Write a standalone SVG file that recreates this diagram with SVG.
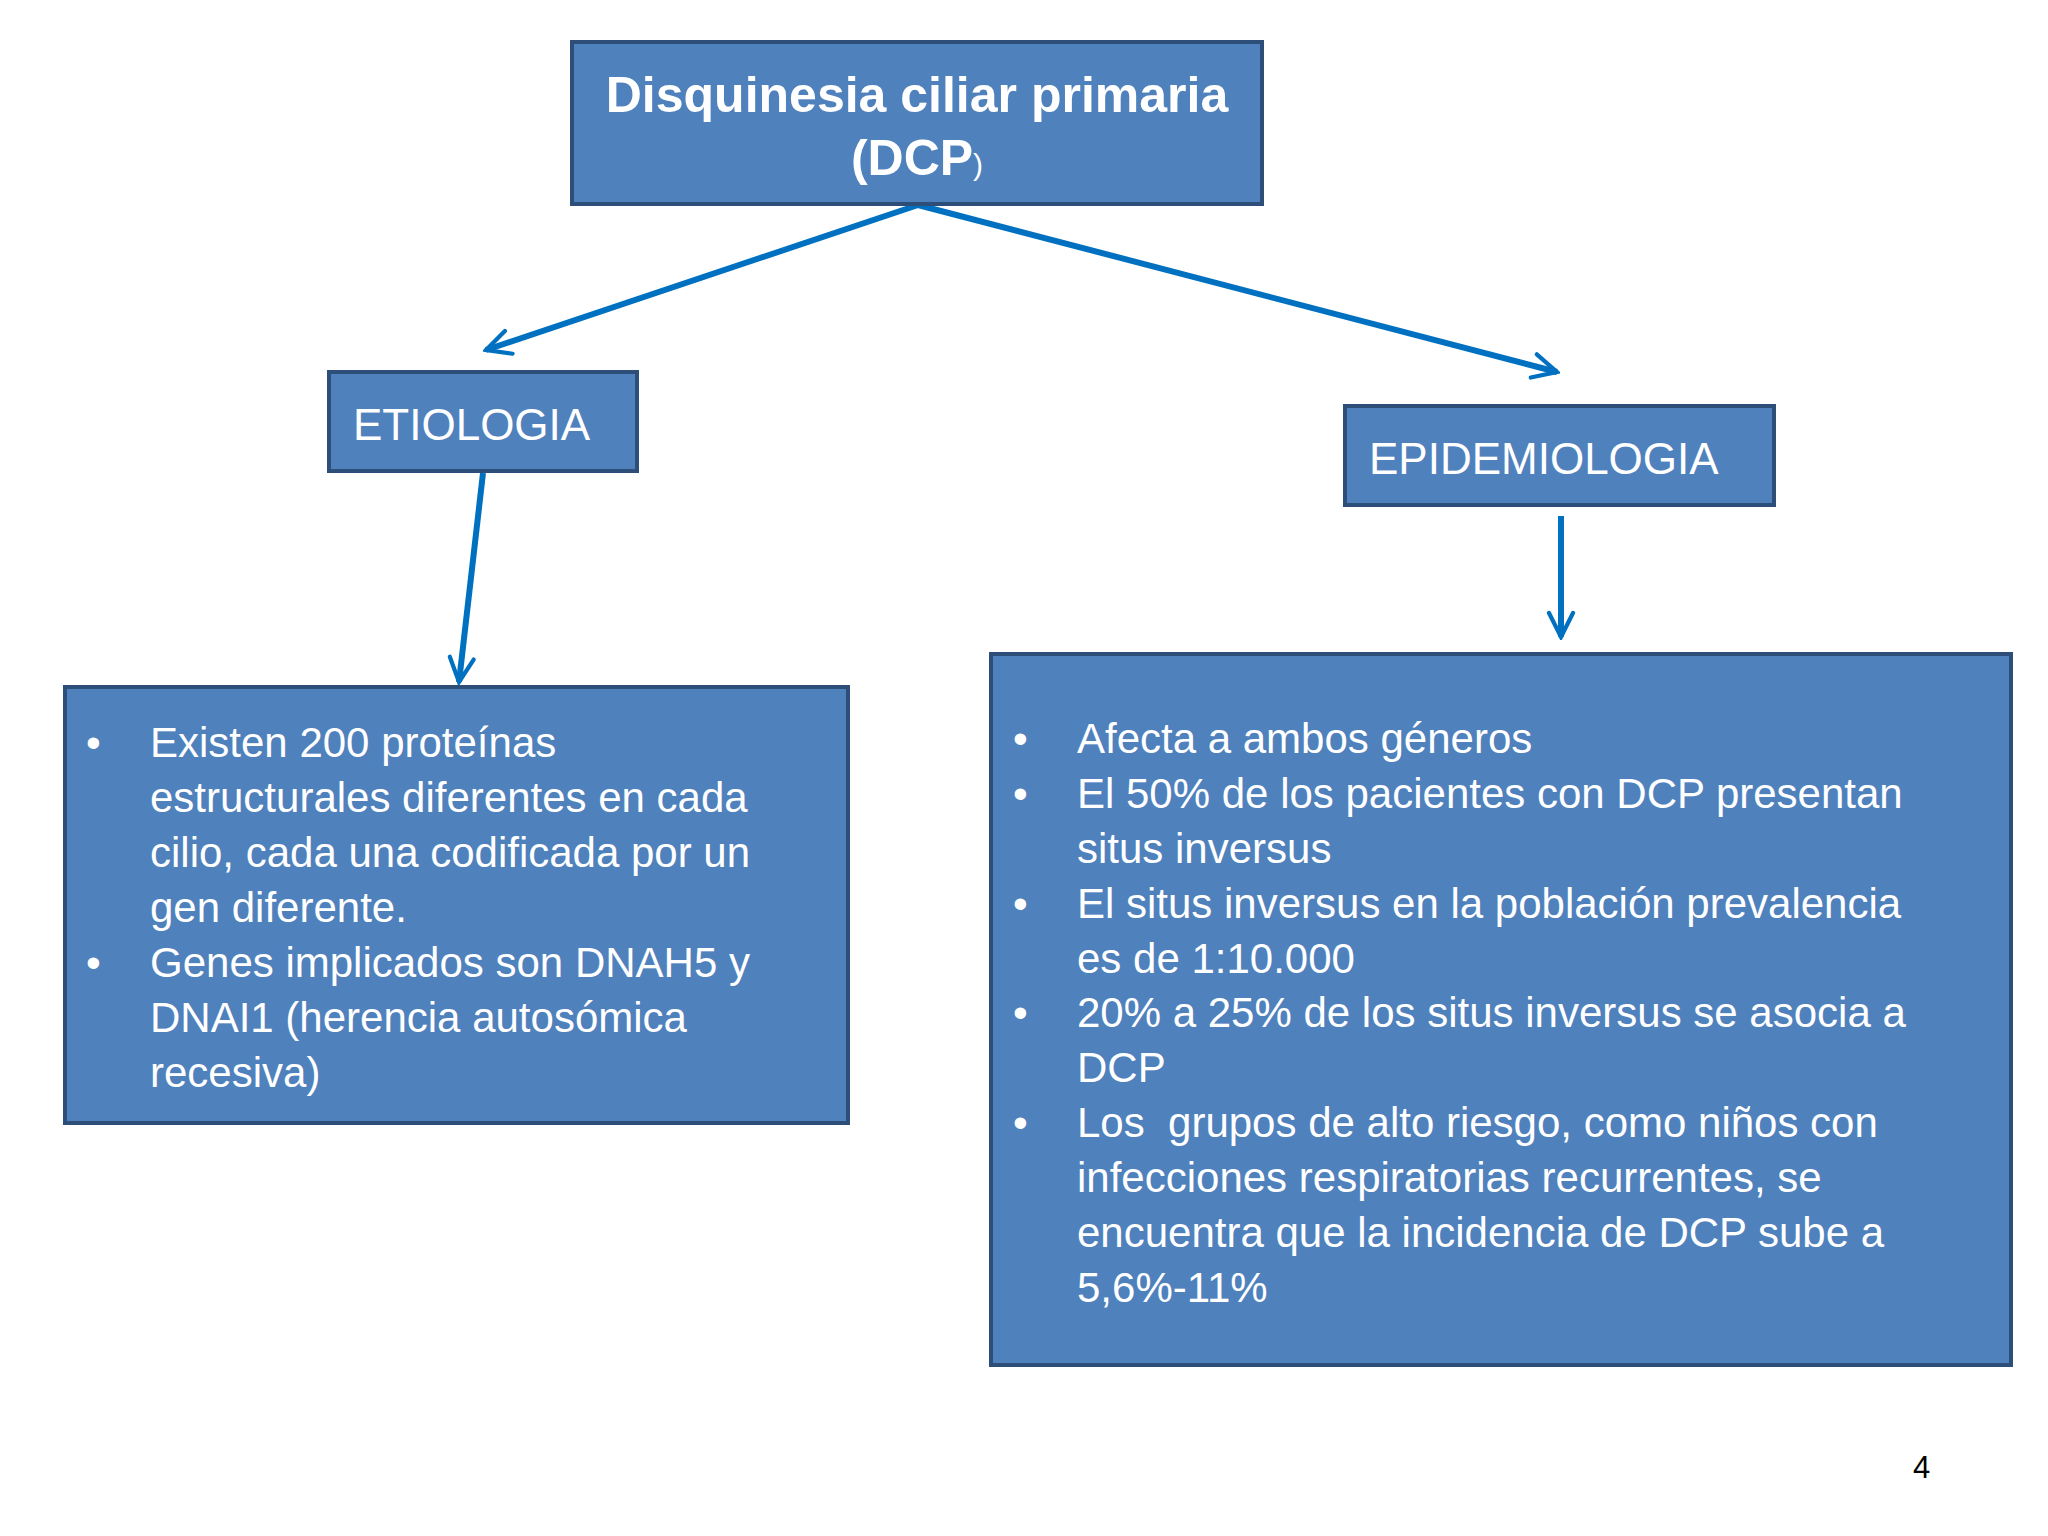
<svg xmlns="http://www.w3.org/2000/svg" width="2048" height="1536" viewBox="0 0 2048 1536">
<style>
.box{fill:#4F81BD;stroke:#2E4E7A;stroke-width:4}
.t{font-family:"Liberation Sans",Arial,sans-serif;fill:#fff}
.b{font-size:42px}
.c{stroke:#0070C0;stroke-width:6;fill:none}
</style>
<defs>
<marker id="ah" viewBox="0 0 10 10" refX="9" refY="5" markerWidth="5" markerHeight="5" orient="auto" markerUnits="strokeWidth">
<polyline points="1,1 9,5 1,9" fill="none" stroke="#0070C0" stroke-width="1.4" stroke-linecap="round"/>
</marker>
</defs>
<rect width="2048" height="1536" fill="#fff"/>
<g id="connectors">
<line class="c" x1="918" y1="205" x2="486" y2="350" marker-end="url(#ah)"/>
<line class="c" x1="918" y1="205" x2="1557" y2="372" marker-end="url(#ah)"/>
<line class="c" x1="483" y1="473" x2="459" y2="682" marker-end="url(#ah)"/>
<line class="c" x1="1561" y1="516" x2="1561" y2="637" marker-end="url(#ah)"/>
</g>
<g id="dcp">
<rect class="box" x="572" y="42" width="690" height="162"/>
<text class="t" x="917" y="112" font-size="50" font-weight="bold" text-anchor="middle">Disquinesia ciliar primaria</text>
<text class="t" x="917" y="175" font-size="50" text-anchor="middle"><tspan font-weight="bold">(DCP</tspan><tspan font-size="30">)</tspan></text>
</g>
<g id="etiologia">
<rect class="box" x="329" y="372" width="308" height="99"/>
<text class="t" x="353" y="440" font-size="44">ETIOLOGIA</text>
</g>
<g id="epidemiologia">
<rect class="box" x="1345" y="406" width="429" height="99"/>
<text class="t" x="1369" y="474" font-size="44">EPIDEMIOLOGIA</text>
</g>
<g id="etiologia-detail">
<rect class="box" x="65" y="687" width="783" height="436"/>
<g class="t b">
<text x="86" y="757">•</text>
<text x="150" y="757">Existen 200 proteínas</text>
<text x="150" y="812">estructurales diferentes en cada</text>
<text x="150" y="867">cilio, cada una codificada por un</text>
<text x="150" y="922">gen diferente.</text>
<text x="86" y="977">•</text>
<text x="150" y="977">Genes implicados son DNAH5 y</text>
<text x="150" y="1032">DNAI1 (herencia autosómica</text>
<text x="150" y="1087">recesiva)</text>
</g>
</g>
<g id="epidemiologia-detail">
<rect class="box" x="991" y="654" width="1020" height="711"/>
<g class="t b">
<text x="1013" y="753">•</text>
<text x="1077" y="753">Afecta a ambos géneros</text>
<text x="1013" y="808">•</text>
<text x="1077" y="808">El 50% de los pacientes con DCP presentan</text>
<text x="1077" y="863">situs inversus</text>
<text x="1013" y="918">•</text>
<text x="1077" y="918">El situs inversus en la población prevalencia</text>
<text x="1077" y="973">es de 1:10.000</text>
<text x="1013" y="1027">•</text>
<text x="1077" y="1027">20% a 25% de los situs inversus se asocia a</text>
<text x="1077" y="1082">DCP</text>
<text x="1013" y="1137">•</text>
<text x="1077" y="1137" xml:space="preserve">Los  grupos de alto riesgo, como niños con</text>
<text x="1077" y="1192">infecciones respiratorias recurrentes, se</text>
<text x="1077" y="1247">encuentra que la incidencia de DCP sube a</text>
<text x="1077" y="1302">5,6%-11%</text>
</g>
</g>
<text x="1913" y="1478" font-family="Liberation Sans,Arial,sans-serif" font-size="31" fill="#000">4</text>
</svg>
